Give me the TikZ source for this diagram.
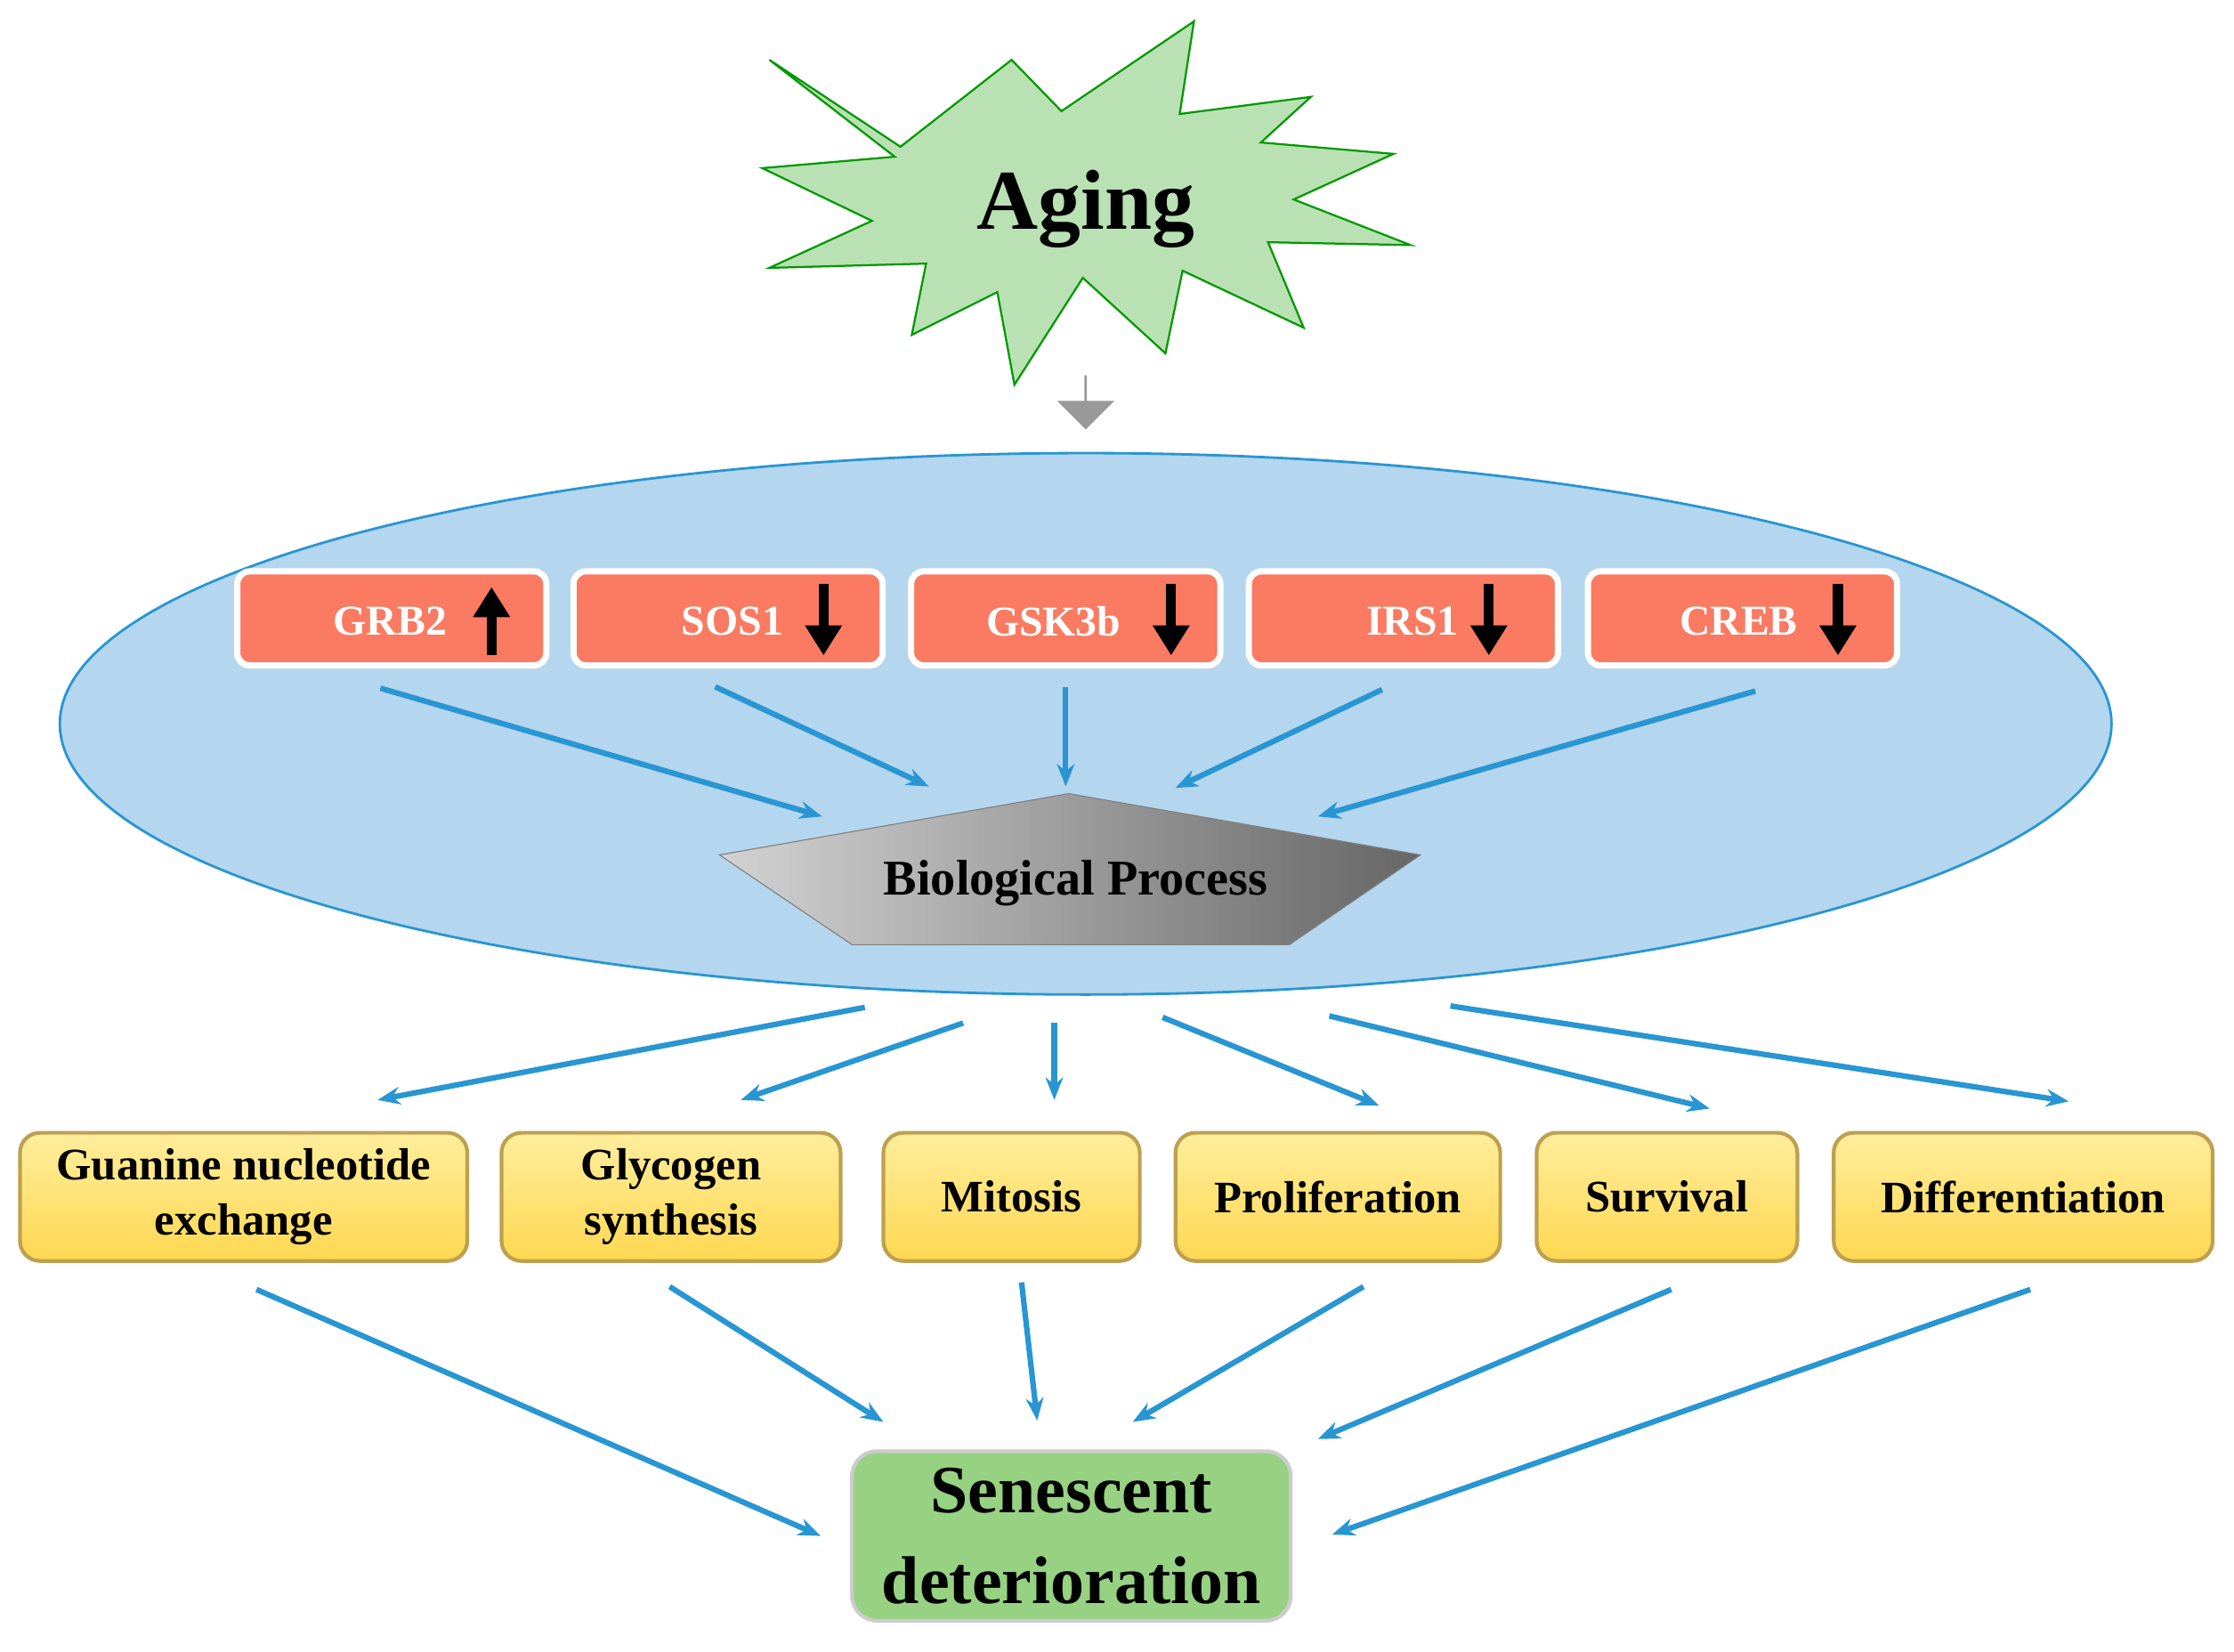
\documentclass[tikz,border=0pt]{standalone}
\usepackage{fontspec}
\setmainfont{Liberation Serif}
\usetikzlibrary{arrows.meta,shapes.arrows}
\definecolor{arr}{RGB}{40,150,210}
\definecolor{ell}{RGB}{180,214,238}
\definecolor{redb}{RGB}{250,122,98}
\definecolor{yel}{RGB}{255,226,90}
\definecolor{yelb}{RGB}{190,160,80}
\definecolor{grn}{RGB}{150,210,130}
\definecolor{star}{RGB}{186,225,180}
\newcommand{\uu}{*0.02cm}
\tikzset{
 con/.style={draw=arr,line width=2.2pt,-{Stealth[length=9pt,width=7pt]}},
 gene/.style={draw=white,line width=2.5pt,fill=redb,rounded corners=5pt,minimum width=217\uu,minimum height=66\uu},
 proc/.style={draw=yelb,line width=1.5pt,top color=yel!60!white,bottom color=yel!90!orange,rounded corners=8pt,minimum height=90\uu,align=center,font=\fontsize{18}{22}\bfseries\selectfont}
}
\begin{document}
\begin{tikzpicture}[x=0.02cm,y=-0.02cm]
\useasboundingbox (0,0) rectangle (1568,1159);
% star
\draw[draw=green!60!black,fill=star,line width=0.8pt] (540,42) -- (632,103) -- (710,42) -- (745,78) -- (838,15) -- (828,80) -- (920,68) -- (885,100) -- (978,108) -- (908,140) -- (990,172) -- (890,170) -- (915,230) -- (830,190) -- (818,248) -- (760,195) -- (712,270) -- (700,205) -- (640,235) -- (650,185) -- (540,188) -- (612,155) -- (535,118) -- (628,110) -- cycle;
\node (aging) at (762,147) {\fontsize{34}{34}\bfseries\selectfont Aging};
% gray down arrow
\node[single arrow,shape border rotate=270,fill=gray!80,minimum height=38\uu,minimum width=40\uu,single arrow head extend=8\uu,inner sep=0pt] (ga) at (762,282) {};
% ellipse
\draw[draw=arr,fill=ell,line width=1pt] (762,508) ellipse [x radius=720,y radius=190];
% genes
\foreach \n/\x/\t in {grb/275/GRB2,sos/511/SOS1,gsk/748/GSK3b,irs/985/IRS1,creb/1223/CREB}{
 \node[gene] (\n) at (\x,434) {};
 \node[text=white,font=\fontsize{17}{17}\bfseries\selectfont,anchor=east] (\n t) at (\x+45,436) {\t};
}
\draw[line width=4pt,-{Triangle[length=12pt,width=14pt]}] (345,460) -- (345,412);
\foreach \x in {578,822,1045,1290}{\draw[line width=4pt,-{Triangle[length=12pt,width=14pt]}] (\x,410) -- (\x,460);}
% pentagon
\shade[left color=gray!35,right color=gray!80!black,draw=gray] (505,600) -- (750,557) -- (997,600) -- (905,663) -- (598,663) -- cycle;
\node (bp) at (755,620) {\fontsize{20}{20}\bfseries\selectfont Biological Process};
% connectors to pentagon
\coordinate (b1) at (577,573); \coordinate (b2) at (652,552); \coordinate (b3) at (748,552); \coordinate (b4) at (825,553); \coordinate (b5) at (925,573);
\draw[con] (267,483) -- (b1);
\draw[con] (502,482) -- (b2);
\draw[con] (748,482) -- (b3);
\draw[con] (970,484) -- (b4);
\draw[con] (1232,485) -- (b5);
% process boxes
\node[proc,minimum width=314\uu] (p1) at (171,840) {Guanine nucleotide\\exchange};
\node[proc,minimum width=238\uu] (p2) at (471,840) {Glycogen\\synthesis};
\node[proc,minimum width=180\uu] (p3) at (710,840) {Mitosis};
\node[proc,minimum width=228\uu] (p4) at (939,840) {Proliferation};
\node[proc,minimum width=183\uu] (p5) at (1170,840) {Survival};
\node[proc,minimum width=266\uu] (p6) at (1420,840) {Differentiation};
\draw[con] (607,707) -- (265,772);
\draw[con] (676,718) -- (520,772);
\draw[con] (740,718) -- (740,772);
\draw[con] (816,714) -- (968,776);
\draw[con] (933,713) -- (1200,778);
\draw[con] (1018,706) -- (1452,773);
% senescent
\node[draw=gray!40,line width=1.5pt,fill=grn,rounded corners=10pt,minimum width=308\uu,minimum height=119\uu,align=center,font=\fontsize{27}{36}\bfseries\selectfont] (sen) at (752,1078) {Senescent\\deterioration};
\draw[con] (180,905) -- (576,1078);
\draw[con] (470,903) -- (620,998);
\draw[con] (717,900) -- (728,997);
\draw[con] (957,903) -- (795,998);
\draw[con] (1173,905) -- (925,1010);
\draw[con] (1425,905) -- (935,1077);
\end{tikzpicture}
\end{document}
